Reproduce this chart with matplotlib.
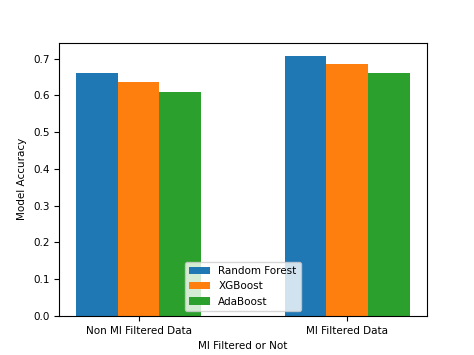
import matplotlib
matplotlib.use("Agg")
import matplotlib.pyplot as plt
import numpy as np

# Accuracy per model for the two data variants
groups = ["Non MI Filtered Data", "MI Filtered Data"]
random_forest = [0.660, 0.708]
xgboost = [0.635, 0.684]
adaboost = [0.610, 0.660]

fig, ax = plt.subplots(figsize=(4.74, 3.55), dpi=100)

x = np.arange(len(groups))
width = 0.2

ax.bar(x - width, random_forest, width, label="Random Forest")
ax.bar(x, xgboost, width, label="XGBoost")
ax.bar(x + width, adaboost, width, label="AdaBoost")

ax.set_xticks(x)
ax.set_xticklabels(groups, fontsize=7.5)
ax.tick_params(axis="y", labelsize=7.5)
ax.set_xlabel("MI Filtered or Not", fontsize=7.5)
ax.set_ylabel("Model Accuracy", fontsize=7.5)
ax.legend(loc="lower center", fontsize=7.5)

fig.savefig("out.png", dpi=100)
